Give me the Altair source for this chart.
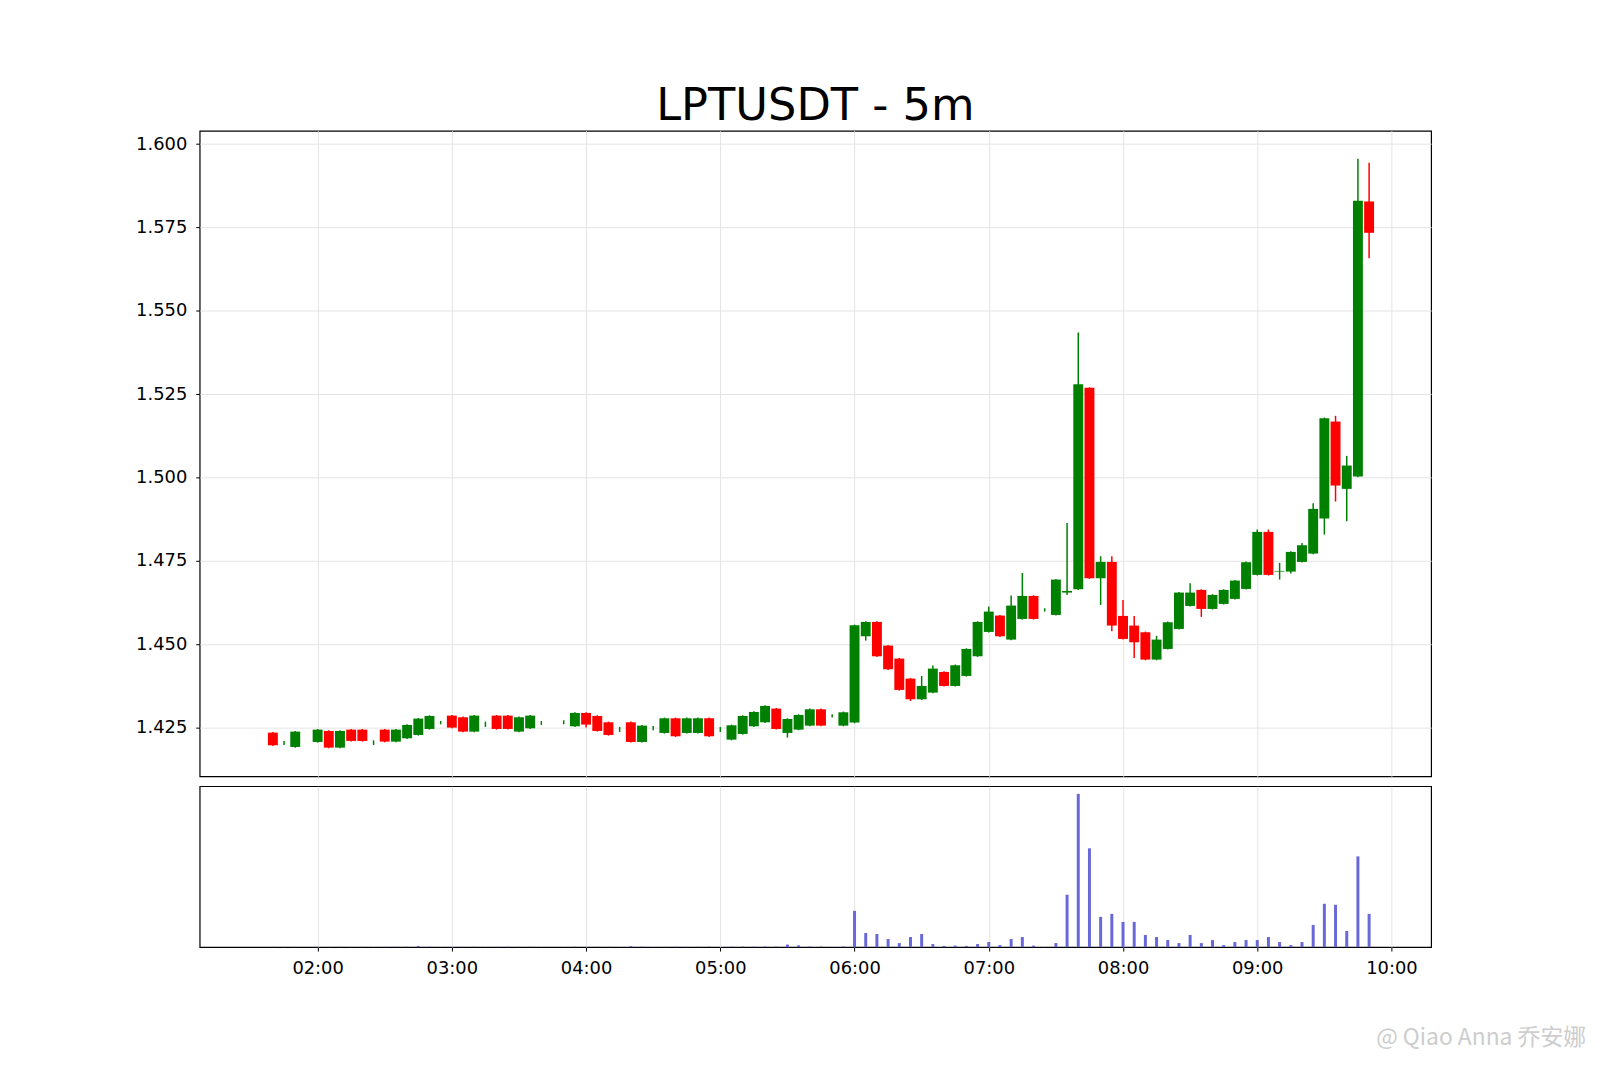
import altair as alt
import pandas as pd

times = ["01:40","01:45","01:50","02:00","02:05","02:10","02:15","02:20","02:25","02:30","02:35","02:40","02:45","02:50","02:55",
         "03:00","03:05","03:10","03:15","03:20","03:25","03:30","03:35","03:40","03:50","03:55",
         "04:00","04:05","04:10","04:15","04:20","04:25","04:30","04:35","04:40","04:45","04:50","04:55",
         "05:00","05:05","05:10","05:15","05:20","05:25","05:30","05:35","05:40","05:45","05:50","05:55",
         "06:00","06:05","06:10","06:15","06:20","06:25","06:30","06:35","06:40","06:45","06:50","06:55",
         "07:00","07:05","07:10","07:15","07:20","07:25","07:30","07:35","07:40","07:45","07:50","07:55",
         "08:00","08:05","08:10","08:15","08:20","08:25","08:30","08:35","08:40","08:45","08:50","08:55",
         "09:00","09:05","09:10","09:15","09:20","09:25","09:30","09:35","09:40","09:45","09:50"]

opens = [1.4235,1.4203,1.4192,1.4207,1.4240,1.4190,1.4244,1.4244,1.4205,1.4244,1.4208,1.4218,1.4228,1.4246,1.4265,
         1.4286,1.4281,1.4238,1.4260,1.4286,1.4286,1.4238,1.4248,1.4265,1.4266,1.4254,
         1.4294,1.4285,1.4266,1.4245,1.4266,1.4207,1.4248,1.4234,1.4278,1.4234,1.4234,1.4278,
         1.4245,1.4214,1.4231,1.4254,1.4266,1.4307,1.4234,1.4244,1.4256,1.4305,1.4285,1.4256,
         1.4265,1.4524,1.4567,1.4496,1.4457,1.4397,1.4335,1.4355,1.4417,1.4375,1.4405,1.4464,
         1.4537,1.4586,1.4514,1.4576,1.4645,1.4603,1.4588,1.4655,1.4665,1.5269,1.4698,1.4747,
         1.4585,1.4556,1.4536,1.4454,1.4486,1.4546,1.4615,1.4663,1.4606,1.4621,1.4636,1.4666,
         1.4708,1.4837,1.4718,1.4718,1.4747,1.4772,1.4877,1.5168,1.4966,1.5003,1.5828]

highs = [1.4237,1.4210,1.4240,1.4246,1.4242,1.4242,1.4246,1.4246,1.4212,1.4246,1.4246,1.4260,1.4279,1.4287,1.4270,
         1.4288,1.4283,1.4288,1.4268,1.4288,1.4288,1.4283,1.4288,1.4270,1.4272,1.4296,
         1.4296,1.4287,1.4268,1.4252,1.4268,1.4258,1.4255,1.4280,1.4280,1.4280,1.4280,1.4280,
         1.4252,1.4259,1.4287,1.4299,1.4317,1.4309,1.4278,1.4290,1.4307,1.4307,1.4290,1.4298,
         1.4559,1.4569,1.4569,1.4498,1.4459,1.4399,1.4405,1.4436,1.4419,1.4439,1.4488,1.4569,
         1.4613,1.4588,1.4646,1.4714,1.4647,1.4608,1.4696,1.4864,1.5435,1.5271,1.4764,1.4764,
         1.4633,1.4585,1.4538,1.4525,1.4568,1.4657,1.4683,1.4665,1.4650,1.4665,1.4693,1.4748,
         1.4844,1.4844,1.4744,1.4779,1.4804,1.4923,1.5180,1.5185,1.5065,1.5956,1.5944]

lows = [1.4195,1.4198,1.4190,1.4205,1.4188,1.4188,1.4208,1.4208,1.4198,1.4206,1.4206,1.4216,1.4226,1.4244,1.4260,
        1.4248,1.4236,1.4236,1.4252,1.4244,1.4244,1.4236,1.4246,1.4258,1.4260,1.4252,
        1.4250,1.4238,1.4226,1.4237,1.4205,1.4205,1.4242,1.4232,1.4222,1.4232,1.4232,1.4222,
        1.4237,1.4212,1.4229,1.4252,1.4264,1.4244,1.4220,1.4242,1.4254,1.4254,1.4280,1.4254,
        1.4263,1.4511,1.4462,1.4423,1.4361,1.4330,1.4333,1.4353,1.4373,1.4373,1.4403,1.4462,
        1.4535,1.4522,1.4512,1.4574,1.4574,1.4598,1.4586,1.4648,1.4663,1.4696,1.4618,1.4539,
        1.4514,1.4459,1.4452,1.4452,1.4484,1.4544,1.4613,1.4582,1.4604,1.4619,1.4634,1.4664,
        1.4706,1.4706,1.4694,1.4712,1.4745,1.4770,1.4829,1.4928,1.4869,1.5001,1.5658]

closes = [1.4197,1.4203,1.4238,1.4244,1.4190,1.4240,1.4210,1.4210,1.4205,1.4208,1.4244,1.4258,1.4277,1.4285,1.4265,
          1.4250,1.4238,1.4286,1.4260,1.4246,1.4246,1.4281,1.4286,1.4265,1.4266,1.4294,
          1.4259,1.4240,1.4228,1.4245,1.4207,1.4256,1.4248,1.4278,1.4224,1.4278,1.4278,1.4224,
          1.4245,1.4257,1.4285,1.4297,1.4315,1.4246,1.4276,1.4288,1.4305,1.4256,1.4285,1.4296,
          1.4557,1.4567,1.4464,1.4425,1.4363,1.4335,1.4375,1.4427,1.4375,1.4437,1.4486,1.4567,
          1.4598,1.4524,1.4616,1.4645,1.4576,1.4603,1.4694,1.4660,1.5280,1.4698,1.4747,1.4556,
          1.4516,1.4506,1.4454,1.4514,1.4566,1.4655,1.4655,1.4606,1.4648,1.4663,1.4691,1.4746,
          1.4837,1.4708,1.4720,1.4777,1.4797,1.4906,1.5178,1.4976,1.5036,1.5830,1.5734]

volumes = [0.3,0.2,0.3,0.3,0.2,0.3,0.2,0.2,0.1,0.3,0.3,0.4,1.2,0.4,0.1,
           0.3,0.3,0.3,0.1,0.3,0.3,0.3,0.3,0.1,0.1,0.4,
           0.3,0.3,0.3,0.1,1.0,0.4,0.1,0.3,0.3,0.3,0.3,0.3,
           0.1,0.4,0.5,0.4,0.6,0.5,2.5,1.8,0.6,0.5,0.1,0.6,
           36,14,13,8,4,10,13,3,1.2,1.5,1.2,3,
           5,2,8,10,1.5,0.2,4,52,152,98,30,33,
           25,25,12,10,7,4,12,4,7,2,5,7,
           7,10,5,2,5,22,43,42,16,90,33]

hour_ticks = ["02:00","03:00","04:00","05:00","06:00","07:00","08:00","09:00","10:00"]
y_ticks = [1.425, 1.450, 1.475, 1.500, 1.525, 1.550, 1.575, 1.600]

DAY = "2024-01-01T"
df = pd.DataFrame({
    "time": [DAY + t + ":00" for t in times],
    "open": opens, "high": highs, "low": lows, "close": closes, "volume": volumes,
})
df["dir"] = ["up" if c >= o else "down" for o, c in zip(opens, closes)]

x_vals = [alt.DateTime(year=2024, month=1, date=1, hours=int(h[:2]), minutes=0) for h in hour_ticks]
x_scale = alt.Scale(domain=[alt.DateTime(year=2024, month=1, date=1, hours=1, minutes=9, seconds=30),
                            alt.DateTime(year=2024, month=1, date=1, hours=10, minutes=15, seconds=30)])

color = alt.Color("dir:N", scale=alt.Scale(domain=["up", "down"], range=["#008000", "#ff0000"]), legend=None)

x_price = alt.X("time:T", scale=x_scale,
                axis=alt.Axis(values=x_vals, labels=False, ticks=False, grid=True, title=None, domain=False))
y_scale = alt.Scale(domain=[1.4104, 1.6040], zero=False, nice=False)
y_axis = alt.Axis(values=y_ticks, format=".3f", title=None, grid=True, tickSize=4, labelPadding=9, domain=False)

base = alt.Chart(df)
wicks = base.mark_rule(strokeWidth=1.5).encode(
    x=x_price, y=alt.Y("low:Q", scale=y_scale, axis=y_axis), y2="high:Q", color=color)
bodies = base.mark_bar(size=10).encode(
    x=x_price, y=alt.Y("open:Q", scale=y_scale, axis=y_axis), y2="close:Q", color=color)

price = alt.layer(wicks, bodies).properties(
    width=1240, height=650,
    title=alt.TitleParams(text="LPTUSDT - 5m", fontSize=45, font="DejaVu Sans", fontWeight="normal",
                          color="black", anchor="middle", frame="group", offset=2))

vol_bars = base.mark_bar(size=3, color="#6868d8").encode(
    x=alt.X("time:T", scale=x_scale,
            axis=alt.Axis(values=x_vals, format="%H:%M", title=None, grid=True, tickSize=4,
                          labelPadding=9, domain=False)),
    y=alt.Y("volume:Q", scale=alt.Scale(domain=[0, 159.6], nice=False),
            axis=alt.Axis(labels=False, ticks=False, grid=False, domain=False, title=None)))

wm = alt.Chart(pd.DataFrame({"t": ["@ Qiao Anna 乔安娜"]})).mark_text(
    align="right", baseline="middle", fontSize=23, font="Noto Sans CJK SC", color="#cdcdcd").encode(
    x=alt.value(1396), y=alt.value(254), text="t:N")

volume = alt.layer(vol_bars, wm).properties(width=1240, height=162)

chart = alt.vconcat(price, volume, spacing=8).properties(
    padding={"left": 127, "top": 72, "right": 5, "bottom": 0}
).configure_view(stroke="black", strokeWidth=1.2).configure_axis(
    labelFont="DejaVu Sans", labelFontSize=18, labelColor="black", tickColor="black",
    gridColor="#e4e4e4", gridWidth=1
)

chart.save("out.html", embed_options={"renderer": "svg", "actions": False})
